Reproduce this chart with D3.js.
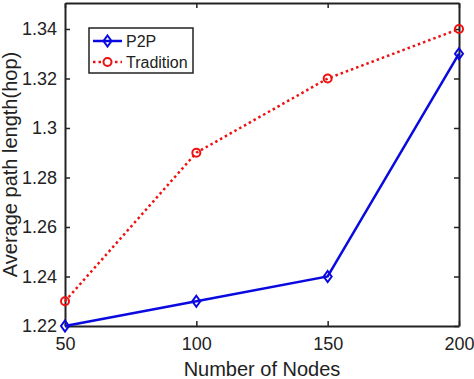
<!DOCTYPE html>
<html>
<head>
<meta charset="utf-8">
<script src="https://cdn.jsdelivr.net/npm/d3@7"></script>
<style>
body { margin: 0; background: #fff; }
text { font-family: "Liberation Sans", Arial, sans-serif; }
</style>
</head>
<body>
<div id="chart"></div>
<script>
// chart data
var nodes = [50, 100, 150, 200];
var p2p = [1.22, 1.23, 1.24, 1.33];
var tradition = [1.23, 1.29, 1.32, 1.34];
var xTicks = [50, 100, 150, 200];
var yTicks = [1.22, 1.24, 1.26, 1.28, 1.30, 1.32, 1.34];

var width = 474, height = 379;
var margin = {left: 65, right: 15, top: 3, bottom: 53};

var svg = d3.select('#chart').append('svg')
    .attr('width', width)
    .attr('height', height);

var x = d3.scaleLinear().domain([50, 200]).range([margin.left, width - margin.right]);
var y = d3.scaleLinear().domain([1.22, 1.3505]).range([height - margin.bottom, margin.top]);

// axes, ticks pointing inward
var xAxis = d3.axisBottom(x).tickValues(xTicks).tickSizeInner(-5).tickSizeOuter(0).tickPadding(11);
var yAxis = d3.axisLeft(y).tickValues(yTicks).tickSizeInner(-5).tickSizeOuter(0).tickPadding(8)
    .tickFormat(function(d){ return d === 1.30 ? '1.3' : d3.format('.2f')(d); });

var gx = svg.append('g').attr('transform', 'translate(0,' + (height - margin.bottom) + ')').call(xAxis);
var gy = svg.append('g').attr('transform', 'translate(' + margin.left + ',0)').call(yAxis);
var gxt = svg.append('g').attr('transform', 'translate(0,' + margin.top + ')')
    .call(d3.axisTop(x).tickValues(xTicks).tickSizeInner(-5).tickSizeOuter(0).tickFormat(''));
var gyr = svg.append('g').attr('transform', 'translate(' + (width - margin.right) + ',0)')
    .call(d3.axisRight(y).tickValues(yTicks).tickSizeInner(-5).tickSizeOuter(0).tickFormat(''));

[gx, gy, gxt, gyr].forEach(function(g){
    g.select('.domain').attr('stroke', '#222').attr('stroke-width', 2);
    g.selectAll('.tick line').attr('stroke', '#222').attr('stroke-width', 1.5);
    g.selectAll('.tick text').attr('fill', '#222').style('font-size', '18px')
        .style('font-family', '"Liberation Sans", Arial, sans-serif');
});

// axis titles
svg.append('text')
    .attr('x', (margin.left + width - margin.right) / 2)
    .attr('y', 376)
    .attr('text-anchor', 'middle')
    .attr('fill', '#222')
    .style('font-size', '20px')
    .text('Number of Nodes');

svg.append('text')
    .attr('transform', 'translate(17,' + ((margin.top + height - margin.bottom) / 2) + ') rotate(-90)')
    .attr('text-anchor', 'middle')
    .attr('fill', '#222')
    .style('font-size', '20px')
    .text('Average path length(hop)');

var line = d3.line()
    .x(function(d, i){ return x(nodes[i]); })
    .y(function(d){ return y(d); });

// Tradition series
svg.append('path')
    .datum(tradition)
    .attr('fill', 'none')
    .attr('stroke', '#f01010')
    .attr('stroke-width', 2.5)
    .attr('stroke-dasharray', '2.5,3')
    .attr('d', line);

svg.selectAll('circle.trad')
    .data(tradition)
    .enter()
    .append('circle')
    .attr('class', 'trad')
    .attr('cx', function(d, i){ return x(nodes[i]); })
    .attr('cy', function(d){ return y(d); })
    .attr('r', 4)
    .attr('fill', 'none')
    .attr('stroke', '#f01010')
    .attr('stroke-width', 2);

// P2P series
svg.append('path')
    .datum(p2p)
    .attr('fill', 'none')
    .attr('stroke', '#0a0ae0')
    .attr('stroke-width', 2.5)
    .attr('d', line);

var diamond = 'M0,-5.5L4,0L0,5.5L-4,0Z';
svg.selectAll('path.p2p')
    .data(p2p)
    .enter()
    .append('path')
    .attr('class', 'p2p')
    .attr('transform', function(d, i){ return 'translate(' + x(nodes[i]) + ',' + y(d) + ')'; })
    .attr('d', diamond)
    .attr('fill', 'none')
    .attr('stroke', '#0a0ae0')
    .attr('stroke-width', 2);

// legend
var lg = svg.append('g').attr('transform', 'translate(89,28)');
lg.append('rect')
    .attr('width', 104).attr('height', 45)
    .attr('fill', '#fff').attr('stroke', '#222').attr('stroke-width', 1.5);

lg.append('line').attr('x1', 4).attr('x2', 33).attr('y1', 13).attr('y2', 13)
    .attr('stroke', '#0a0ae0').attr('stroke-width', 2.5);
lg.append('path').attr('transform', 'translate(18.5,13)').attr('d', diamond)
    .attr('fill', 'none').attr('stroke', '#0a0ae0').attr('stroke-width', 2);
lg.append('text').attr('x', 37).attr('y', 19).attr('fill', '#222').style('font-size', '16px').text('P2P');

lg.append('line').attr('x1', 4).attr('x2', 33).attr('y1', 34).attr('y2', 34)
    .attr('stroke', '#f01010').attr('stroke-width', 2.5).attr('stroke-dasharray', '2.5,3');
lg.append('circle').attr('cx', 18.5).attr('cy', 34).attr('r', 4)
    .attr('fill', '#fff').attr('stroke', '#f01010').attr('stroke-width', 2);
lg.append('text').attr('x', 37).attr('y', 40).attr('fill', '#222').style('font-size', '16px').text('Tradition');
</script>
</body>
</html>
